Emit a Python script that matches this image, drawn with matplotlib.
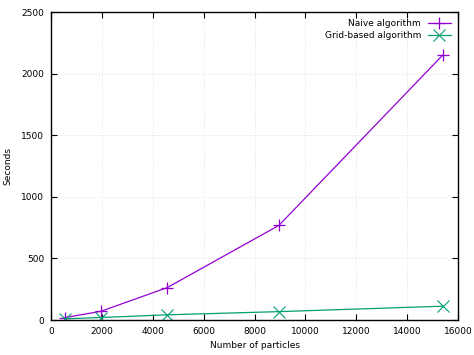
import matplotlib
matplotlib.use("Agg")
import matplotlib.pyplot as plt

# data
particles_naive = [550, 1950, 4560, 8960, 15400]
seconds_naive = [20, 70, 262, 768, 2150]
particles_grid = [550, 1950, 4560, 8960, 15400]
seconds_grid = [10, 20, 42, 68, 112]

plt.rcParams["font.family"] = "DejaVu Sans"
plt.rcParams["font.size"] = 6.5

fig = plt.figure(figsize=(4.74, 3.55), dpi=100)
ax = fig.add_axes([51 / 474, 35 / 355, 407 / 474, 308 / 355])

ax.plot(particles_naive, seconds_naive, color="#9400d3", lw=0.9,
        marker="+", ms=8, mew=0.9, label="Naive algorithm")
ax.plot(particles_grid, seconds_grid, color="#009e73", lw=0.9,
        marker="x", ms=8, mew=0.8, label="Grid-based algorithm")

ax.set_xlim(0, 16000)
ax.set_ylim(0, 2500)
ax.set_xticks(range(0, 16001, 2000))
ax.set_yticks(range(0, 2501, 500))
ax.grid(True, color="#d8d8d8", linestyle=(0, (1, 2)), lw=0.6)
ax.tick_params(direction="in", top=True, right=True, length=4, width=0.8, pad=5)
for s in ax.spines.values():
    s.set_linewidth(1.0)

ax.set_xlabel("Number of particles", labelpad=4)
ax.set_ylabel("Seconds", labelpad=6)

ax.legend(loc="upper right", frameon=False, markerfirst=False,
          handlelength=2.5, borderaxespad=0.4, labelspacing=0.3,
          alignment="right")

fig.savefig("out.png", dpi=100)
